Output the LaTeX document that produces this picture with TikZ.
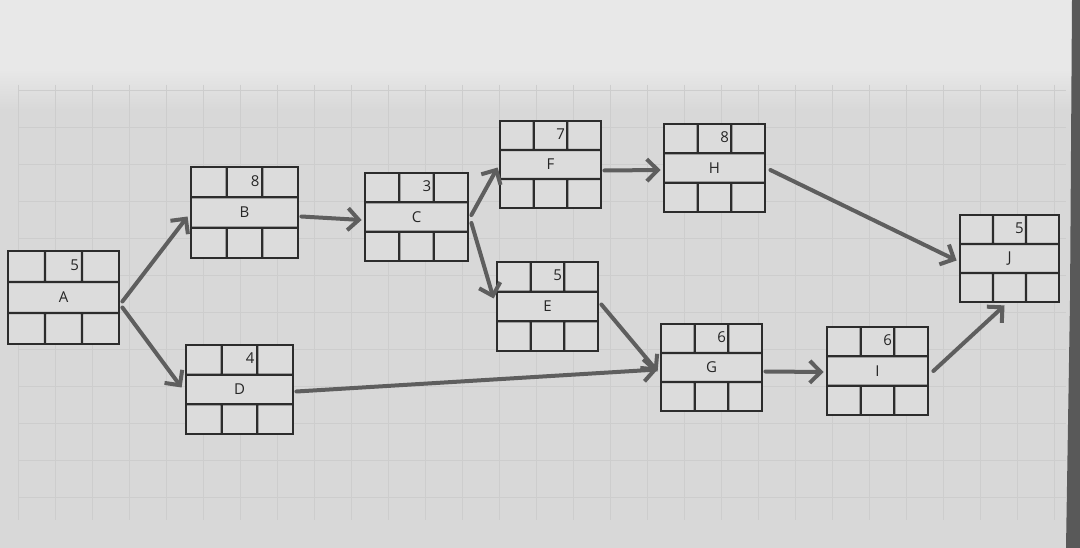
\documentclass[tikz,border=0pt]{standalone}
\usepackage{fontspec}
\setmainfont{Open Sans}
\usetikzlibrary{arrows.meta,calc}
\definecolor{paper}{HTML}{D8D8D8}
\definecolor{gridc}{HTML}{CDCDCD}
\definecolor{boxline}{HTML}{2C2C2C}
\definecolor{arrowc}{HTML}{5E5E5E}
\definecolor{cellc}{HTML}{DCDCDC}
\tikzset{
  actbox/.style={draw=boxline, line width=2.8pt, fill=cellc, inner sep=0pt,
    path picture={
      \coordinate (nw) at (path picture bounding box.north west);
      \coordinate (ne) at (path picture bounding box.north east);
      \coordinate (sw) at (path picture bounding box.south west);
      \coordinate (se) at (path picture bounding box.south east);
      \draw[boxline, line width=2.2pt]
        ($(nw)!1/3!(sw)$) -- ($(ne)!1/3!(se)$)
        ($(nw)!2/3!(sw)$) -- ($(ne)!2/3!(se)$)
        ($(nw)!1/3!(ne)$) -- ($($(nw)!1/3!(sw)$)!1/3!($(ne)!1/3!(se)$)$)
        ($(nw)!2/3!(ne)$) -- ($($(nw)!1/3!(sw)$)!2/3!($(ne)!1/3!(se)$)$)
        ($(sw)!1/3!(se)$) -- ($($(nw)!2/3!(sw)$)!1/3!($(ne)!2/3!(se)$)$)
        ($(sw)!2/3!(se)$) -- ($($(nw)!2/3!(sw)$)!2/3!($(ne)!2/3!(se)$)$);
    }},
  lbl/.style={font=\fontsize{15}{17}\selectfont, text=black!85, inner sep=0pt},
  conn/.style={draw=arrowc, line width=4pt, line cap=round,
    -{Straight Barb[length=11pt,width=22pt,line width=4pt]}},
}
\newcommand{\act}[7]{% name, cx, cy, w, h, duration, label
  \node[actbox, minimum width=#4pt, minimum height=#5pt] (#1) at (#2,#3) {};
  \node[lbl] (#1name) at (#1) {#7};
  \node[lbl] (#1dur) at ($(#1.north)+(0.1*#4,#5/6)$) {#6};
}
\begin{document}
\begin{tikzpicture}[x=1pt,y=-1pt]
\useasboundingbox (0,0) rectangle (1080,548);
\fill[paper] (0,0) rectangle (1080,548);
\fill[paper!60!white] (0,0) rectangle (1080,70);
\shade[top color=paper!60!white, bottom color=paper] (0,70) rectangle (1080,110);
\foreach \gx in {18,55,...,1066} \draw[gridc, line width=0.7pt] (\gx,85) -- (\gx,520);
\foreach \gy in {90,127,...,520} \draw[gridc, line width=0.7pt] (18,\gy) -- (1066,\gy);
\fill[black!65] (1072,0) -- (1080,0) -- (1080,548) -- (1066,548) -- (1070,300) -- cycle;
% activity boxes
\act{A}{63.5}{297.5}{111}{93}{5}{A}
\act{B}{244.5}{212.5}{107}{91}{8}{B}
\act{C}{416.5}{217}{103}{88}{3}{C}
\act{F}{550.5}{164.5}{101}{87}{7}{F}
\act{H}{714.5}{168}{101}{88}{8}{H}
\act{E}{547.5}{306.5}{101}{89}{5}{E}
\act{D}{239.5}{389.5}{107}{89}{4}{D}
\act{G}{711.5}{367.5}{101}{87}{6}{G}
\act{I}{877.5}{371}{101}{88}{6}{I}
\act{J}{1009.5}{258.5}{99}{87}{5}{J}
% connectors
\draw[conn] ($(A.east)+(2,4)$) -- ($(B.west)+(-2,4)$);
\draw[conn] ($(A.east)+(2,10)$) -- ($(D.west)+(-3,-2)$);
\draw[conn] ($(B.east)+(2,4)$) -- ($(C.west)+(-2,3)$);
\draw[conn] ($(C.east)+(2,-2)$) -- ($(F.west)+(-1,3)$);
\draw[conn] ($(C.east)+(2,6)$) -- ($(E.west)+(-2,-8)$);
\draw[conn] ($(F.east)+(2,6)$) -- ($(H.west)+(-2,2)$);
\draw[conn] ($(E.east)+(2,-2)$) -- ($(G.west)+(-2,4)$);
\draw[conn] ($(D.east)+(2,2)$) -- ($(G.west)+(-2,2)$);
\draw[conn] ($(H.east)+(4,2)$) -- ($(J.west)+(-2,2)$);
\draw[conn] ($(G.east)+(2,4)$) -- ($(I.west)+(-2,1)$);
\draw[conn] ($(I.east)+(4,0)$) -- ($(J.south)+(-5,2)$);
\end{tikzpicture}
\end{document}
